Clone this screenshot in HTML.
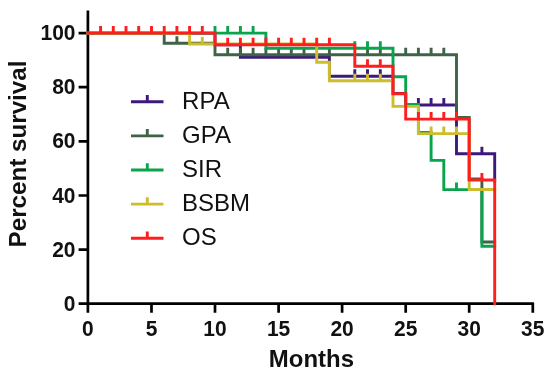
<!DOCTYPE html>
<html><head><meta charset="utf-8"><title>Survival</title>
<style>
html,body{margin:0;padding:0;background:#fff;}
body{width:550px;height:377px;overflow:hidden;}
svg{display:block;}
.tl{font-family:"Liberation Sans",Arial,sans-serif;font-weight:bold;font-size:21px;fill:#111;}
.lg{font-family:"Liberation Sans",Arial,sans-serif;font-size:24px;fill:#111;}
.ax{font-family:"Liberation Sans",Arial,sans-serif;font-weight:bold;font-size:23.5px;fill:#111;}
</style></head><body>
<div><svg width="550" height="377" viewBox="0 0 550 377">
<rect width="550" height="377" fill="#fff"/>
<g>
<path d="M87.9 10.4 V303.7" stroke="#000" stroke-width="2.7" fill="none"/>
<path d="M86.6 303.7 H533.9" stroke="#000" stroke-width="2.7" fill="none"/>
<text transform="translate(75.5 310.7) scale(1 1.07)" class="tl" text-anchor="end">0</text>
<text transform="translate(75.5 256.6) scale(1 1.07)" class="tl" text-anchor="end">20</text>
<text transform="translate(75.5 202.5) scale(1 1.07)" class="tl" text-anchor="end">40</text>
<text transform="translate(75.5 148.3) scale(1 1.07)" class="tl" text-anchor="end">60</text>
<text transform="translate(75.5 94.2) scale(1 1.07)" class="tl" text-anchor="end">80</text>
<text transform="translate(75.5 40.1) scale(1 1.07)" class="tl" text-anchor="end">100</text>
<path d="M78.6 303.7 H88 M78.6 249.6 H88 M78.6 195.5 H88 M78.6 141.3 H88 M78.6 87.2 H88 M78.6 33.1 H88" stroke="#000" stroke-width="2.7" fill="none"/>
<text transform="translate(87.9 335.6) scale(1 1.07)" class="tl" text-anchor="middle">0</text>
<text transform="translate(151.5 335.6) scale(1 1.07)" class="tl" text-anchor="middle">5</text>
<text transform="translate(215.0 335.6) scale(1 1.07)" class="tl" text-anchor="middle">10</text>
<text transform="translate(278.6 335.6) scale(1 1.07)" class="tl" text-anchor="middle">15</text>
<text transform="translate(342.1 335.6) scale(1 1.07)" class="tl" text-anchor="middle">20</text>
<text transform="translate(405.7 335.6) scale(1 1.07)" class="tl" text-anchor="middle">25</text>
<text transform="translate(469.2 335.6) scale(1 1.07)" class="tl" text-anchor="middle">30</text>
<text transform="translate(532.8 335.6) scale(1 1.07)" class="tl" text-anchor="middle">35</text>
<path d="M87.9 303 V312.8 M151.5 303 V312.8 M215.0 303 V312.8 M278.6 303 V312.8 M342.1 303 V312.8 M405.7 303 V312.8 M469.2 303 V312.8 M532.8 303 V312.8" stroke="#000" stroke-width="2.7" fill="none"/>
<path d="M87.9 33.1 L215.0 33.1 L215.0 44.7 L240.4 44.7 L240.4 57.4 L329.4 57.4 L329.4 76.2 L393.0 76.2 L393.0 93.5 L405.7 93.5 L405.7 105.0 L456.5 105.0 L456.5 153.8 L494.7 153.8 L494.7 181.0" stroke="#3c1a7c" stroke-width="2.9" fill="none" stroke-linejoin="miter" stroke-linecap="square"/>
<path d="M354.8 76.2 V69.2 M367.5 76.2 V69.2 M380.3 76.2 V69.2 M418.4 105.0 V98.0 M431.1 105.0 V98.0 M443.8 105.0 V98.0 M481.9 153.8 V146.8" stroke="#3c1a7c" stroke-width="2.9" fill="none" stroke-linecap="butt"/>
<path d="M87.9 33.1 L164.2 33.1 L164.2 43.3 L215.0 43.3 L215.0 54.7 L456.5 54.7 L456.5 117.5 L469.2 117.5 L469.2 179.0 L481.9 179.0 L481.9 242.0 L494.7 242.0 L494.7 242.0" stroke="#3f6347" stroke-width="2.9" fill="none" stroke-linejoin="miter" stroke-linecap="square"/>
<path d="M176.9 43.3 V36.3 M227.7 54.7 V47.7 M240.4 54.7 V47.7 M253.1 54.7 V47.7 M265.9 54.7 V47.7 M278.6 54.7 V47.7 M291.3 54.7 V47.7 M304.0 54.7 V47.7 M329.4 54.7 V47.7 M367.5 54.7 V47.7 M380.3 54.7 V47.7 M405.7 54.7 V47.7 M418.4 54.7 V47.7 M431.1 54.7 V47.7 M443.8 54.7 V47.7" stroke="#3f6347" stroke-width="2.9" fill="none" stroke-linecap="butt"/>
<path d="M87.9 33.1 L265.9 33.1 L265.9 48.3 L393.0 48.3 L393.0 76.7 L405.7 76.7 L405.7 104.4 L418.4 104.4 L418.4 132.4 L431.1 132.4 L431.1 160.4 L443.8 160.4 L443.8 189.6 L481.9 189.6 L481.9 246.3 L494.7 246.3 L494.7 246.3" stroke="#0aa44c" stroke-width="2.9" fill="none" stroke-linejoin="miter" stroke-linecap="square"/>
<path d="M215.0 33.1 V26.1 M227.7 33.1 V26.1 M240.4 33.1 V26.1 M253.1 33.1 V26.1 M354.8 48.3 V41.3 M367.5 48.3 V41.3 M380.3 48.3 V41.3 M456.5 189.6 V182.6" stroke="#0aa44c" stroke-width="2.9" fill="none" stroke-linecap="butt"/>
<path d="M87.9 33.1 L189.6 33.1 L189.6 44.0 L316.7 44.0 L316.7 62.3 L329.4 62.3 L329.4 80.8 L393.0 80.8 L393.0 106.4 L418.4 106.4 L418.4 133.6 L469.2 133.6 L469.2 189.5 L494.7 189.5 L494.7 189.5" stroke="#cdbd2e" stroke-width="2.9" fill="none" stroke-linejoin="miter" stroke-linecap="square"/>
<path d="M202.3 44.0 V37.0 M354.8 80.8 V73.8 M367.5 80.8 V73.8 M380.3 80.8 V73.8 M431.1 133.6 V126.6 M443.8 133.6 V126.6 M456.5 133.6 V126.6" stroke="#cdbd2e" stroke-width="2.9" fill="none" stroke-linecap="butt"/>
<path d="M87.9 33.1 L215.0 33.1 L215.0 44.8 L354.8 44.8 L354.8 66.3 L393.0 66.3 L393.0 93.7 L405.7 93.7 L405.7 119.1 L469.2 119.1 L469.2 180.0 L494.7 180.0 L494.7 303.7" stroke="#ff1d1d" stroke-width="2.9" fill="none" stroke-linejoin="miter" stroke-linecap="square"/>
<path d="M100.6 33.1 V26.1 M113.3 33.1 V26.1 M126.0 33.1 V26.1 M138.7 33.1 V26.1 M151.5 33.1 V26.1 M164.2 33.1 V26.1 M176.9 33.1 V26.1 M189.6 33.1 V26.1 M202.3 33.1 V26.1 M227.7 44.8 V37.8 M240.4 44.8 V37.8 M253.1 44.8 V37.8 M265.9 44.8 V37.8 M278.6 44.8 V37.8 M291.3 44.8 V37.8 M304.0 44.8 V37.8 M316.7 44.8 V37.8 M329.4 44.8 V37.8 M367.5 66.3 V59.3 M380.3 66.3 V59.3 M418.4 119.1 V112.1 M431.1 119.1 V112.1 M443.8 119.1 V112.1 M456.5 119.1 V112.1 M481.9 180.0 V173.0" stroke="#ff1d1d" stroke-width="2.9" fill="none" stroke-linecap="butt"/>
<path d="M131 101.7 H163.5 M147.3 101.7 V94.9" stroke="#3c1a7c" stroke-width="2.9" fill="none"/>
<text x="182.1" y="108.8" class="lg">RPA</text>
<path d="M131 135.9 H163.5 M147.3 135.9 V129.1" stroke="#3f6347" stroke-width="2.9" fill="none"/>
<text x="182.1" y="143.0" class="lg">GPA</text>
<path d="M131 170.0 H163.5 M147.3 170.0 V163.2" stroke="#0aa44c" stroke-width="2.9" fill="none"/>
<text x="182.1" y="177.1" class="lg">SIR</text>
<path d="M131 204.1 H163.5 M147.3 204.1 V197.3" stroke="#cdbd2e" stroke-width="2.9" fill="none"/>
<text x="182.1" y="211.2" class="lg">BSBM</text>
<path d="M131 238.2 H163.5 M147.3 238.2 V231.4" stroke="#ff1d1d" stroke-width="2.9" fill="none"/>
<text x="182.1" y="245.3" class="lg">OS</text>
<text class="ax" transform="translate(26.4 154.0) rotate(-90) scale(1.03 1)" text-anchor="middle">Percent survival</text>
<text class="ax" transform="translate(311.4 367.3) scale(1.02 1)" text-anchor="middle">Months</text>
</g>
</svg></div>
</body></html>
